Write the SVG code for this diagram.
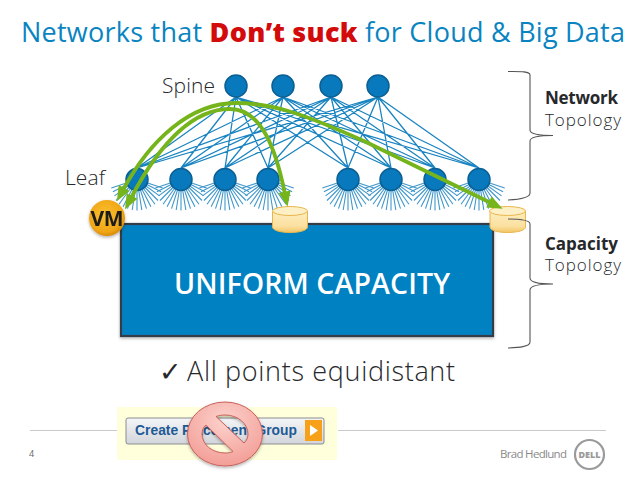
<svg xmlns="http://www.w3.org/2000/svg" xmlns:xlink="http://www.w3.org/1999/xlink" width="638" height="478" viewBox="0 0 638 478">
<style>
text{font-family:"Open Sans","Lato","Liberation Sans",sans-serif;fill:#26282b}
.net{fill:#0879bd;stroke:#0b5f92;stroke-width:1.5}
.link{stroke:#1a84c0;stroke-width:1.3;fill:none}
.fan{stroke:#3f97cb;stroke-width:1.1;fill:none}
.green{stroke:#76b41c;stroke-width:3.8;fill:none;marker-start:url(#gh);marker-end:url(#gh)}
.brace{stroke:#555;stroke-width:1.1;fill:none}
.lab{font-size:17px}
.tier{font-size:21px;font-weight:300}
.rule{stroke:#c9c9c9;stroke-width:1}
.cyl{fill:url(#cylG);stroke:#e9b64e;stroke-width:1}
.cyltop{fill:#fdf0c6;stroke:#e9b64e;stroke-width:1}
</style>
<defs>
<marker id="gh" markerUnits="strokeWidth" markerWidth="5" markerHeight="4" refX="0.6" refY="1.6" orient="auto-start-reverse" overflow="visible"><path d="M0,0L4,1.6L0,3.2Z" fill="#76b41c"/></marker>
<linearGradient id="cylG" x1="0" y1="0" x2="0" y2="1"><stop offset="0" stop-color="#fdeebf"/><stop offset=".7" stop-color="#fbe0a0"/><stop offset="1" stop-color="#f2c566"/></linearGradient>
<radialGradient id="vmG" cx=".45" cy=".4" r=".65"><stop offset="0" stop-color="#fbc02e"/><stop offset=".75" stop-color="#f0a516"/><stop offset="1" stop-color="#cf8206"/></radialGradient>
<linearGradient id="btnG" x1="0" y1="0" x2="0" y2="1"><stop offset="0" stop-color="#f4f5f7"/><stop offset="1" stop-color="#d2d5da"/></linearGradient>
<radialGradient id="noG" cx=".5" cy=".3" r=".75"><stop offset="0" stop-color="#fcd2cc"/><stop offset="1" stop-color="#f29a93"/></radialGradient>
<filter id="soft" x="-10%" y="-10%" width="120%" height="125%"><feDropShadow dx="0" dy="1.5" stdDeviation="1.5" flood-color="#000" flood-opacity=".3"/></filter>
<g id="fanShape" class="fan"><path d="M0,0V31M0,0L4.800,30.500M0,0L9.500,29.200M0,0L13.900,27.300M0,0L18,24.800M0,0L21,21M0,0L22.500,16.400M0,0L24.100,12.300M0,0L25.700,8.400M0,0L-4.800,30.500M0,0L-9.500,29.200M0,0L-13.900,27.300M0,0L-18,24.800M0,0L-21,21M0,0L-22.500,16.400M0,0L-24.100,12.300M0,0L-25.700,8.400"/></g>
</defs>
<rect width="638" height="478" fill="#fff"/>
<text id="title" x="21" y="42" font-size="27" textLength="604" style="fill:#0a84c1">Networks that <tspan font-weight="800" style="fill:#d30b0b">Don’t suck</tspan> for Cloud &amp; Big Data</text>

<g id="capacity" filter="url(#soft)"><rect x="121" y="224" width="372" height="112" fill="#0681c2" stroke="#323c46" stroke-width="2.200"/></g>
<text x="174" y="294" font-size="28.500" font-weight="600" textLength="276" style="fill:#fff">UNIFORM CAPACITY</text>

<g id="connectors">
<path class="link" d="M236,97L137,168M236,97L181,168M236,97L225,168M236,97L268,168M236,97L348,168M236,97L391,168M236,97L435,168M236,97L479,168
M283,97L137,168M283,97L181,168M283,97L225,168M283,97L268,168M283,97L348,168M283,97L391,168M283,97L435,168M283,97L479,168
M331,97L137,168M331,97L181,168M331,97L225,168M331,97L268,168M331,97L348,168M331,97L391,168M331,97L435,168M331,97L479,168
M378,97L137,168M378,97L181,168M378,97L225,168M378,97L268,168M378,97L348,168M378,97L391,168M378,97L435,168M378,97L479,168"/>
</g>
<use href="#fanShape" x="137" y="179.5"/><use href="#fanShape" x="181" y="179.5"/><use href="#fanShape" x="225" y="179.5"/><use href="#fanShape" x="268" y="179.5"/><use href="#fanShape" x="348" y="179.5"/><use href="#fanShape" x="391" y="179.5"/><use href="#fanShape" x="435" y="179.5"/><use href="#fanShape" x="479" y="179.5"/>

<g id="spine1"><circle class="net" cx="236" cy="86" r="11"/></g>
<g id="spine2"><circle class="net" cx="283" cy="86" r="11"/></g>
<g id="spine3"><circle class="net" cx="331" cy="86" r="11"/></g>
<g id="spine4"><circle class="net" cx="378" cy="86" r="11"/></g>
<g id="leaf1"><circle class="net" cx="137" cy="179.5" r="11"/></g>
<g id="leaf2"><circle class="net" cx="181" cy="179.5" r="11"/></g>
<g id="leaf3"><circle class="net" cx="225" cy="179.5" r="11"/></g>
<g id="leaf4"><circle class="net" cx="268" cy="179.5" r="11"/></g>
<g id="leaf5"><circle class="net" cx="348" cy="179.5" r="11"/></g>
<g id="leaf6"><circle class="net" cx="391" cy="179.5" r="11"/></g>
<g id="leaf7"><circle class="net" cx="435" cy="179.5" r="11"/></g>
<g id="leaf8"><circle class="net" cx="479" cy="179.5" r="11"/></g>

<g id="store1"><path class="cyl" d="M272.500,211V227C272.500,230.500 281,232.500 290,232.500S307.500,230.500 307.500,227V211Z"/><ellipse class="cyltop" cx="290" cy="211" rx="17.500" ry="4.500"/></g>
<g id="store2"><path class="cyl" d="M490,211V227C490,230.500 498,232.500 507.500,232.500S525.500,230.500 525.500,227V211Z"/><ellipse class="cyltop" cx="507.500" cy="211" rx="18" ry="4.500"/></g>

<g id="green-paths">
<path class="green" d="M123,190C150,140 190,103 236,103C270,103 300,112 366,142L491,203"/>
<path class="green" d="M131,198C152,158 185,109 230,109C262,109 276,150 285,194"/>
</g>

<g id="vm" filter="url(#soft)"><circle cx="107" cy="218" r="18" fill="url(#vmG)"/><text x="90.500" y="225.500" font-size="21" font-weight="700" textLength="33" style="fill:#1a1a1a">VM</text></g>

<text class="tier" x="162" y="92.500" textLength="53">Spine</text>
<text class="tier" x="65" y="185" textLength="40">Leaf</text>

<g id="braces">
<path class="brace" d="M508,71.500C518,71.500 530,71 530,75V130C530,134 538,135.500 553,135.500C538,135.500 530,137 530,141V193C530,198 518,199.500 508,200"/>
<path class="brace" d="M508,219C518,219 530,219.500 530,224V278C530,282 538,284 553,284C538,284 530,286 530,290V342C530,347 518,347.500 508,348"/>
</g>
<text class="lab" x="545" y="104" font-weight="700" textLength="73">Network</text>
<text class="lab" x="545" y="126" font-weight="300" textLength="76">Topology</text>
<text class="lab" x="545" y="250" font-weight="700" textLength="73">Capacity</text>
<text class="lab" x="545" y="271" font-weight="300" textLength="76">Topology</text>

<text x="159" y="381" font-size="27" style="font-family:'DejaVu Sans',sans-serif;fill:#26282b">✓</text>
<text x="187" y="381" font-size="27" font-weight="300" textLength="268">All points equidistant</text>

<line class="rule" x1="30" y1="430.500" x2="117" y2="430.500"/>
<line class="rule" x1="338" y1="430.500" x2="606" y2="430.500"/>

<g id="placement">
<rect x="117" y="407" width="220" height="53" fill="#ffffdc"/>
<rect x="126" y="418" width="198" height="26" rx="2" fill="url(#btnG)" stroke="#8a8d90" stroke-width="1"/>
<text x="135" y="435" font-size="13.800" font-weight="700" textLength="162" style="font-family:'Liberation Sans',sans-serif;fill:#1d5a96">Create Placement Group</text>
<rect x="305" y="420" width="17" height="21" fill="#f7a11a"/>
<path d="M310,425L318,430.500L310,436Z" fill="#fff"/>
</g>
<g id="no-sign" filter="url(#soft)">
<path fill="url(#noG)" fill-rule="evenodd" stroke="#c9605a" stroke-width="1" d="M187.500,434a37.500,32 0 1,0 75,0a37.500,32 0 1,0 -75,0ZM202,434a23,19 0 0,0 23,19c3,0 6,-.5 8,-1.500L206,425c-3,2.500 -4,6 -4,9ZM216,416.500L244,443c3,-2.500 4,-6 4,-9a23,19 0 0,0 -23,-19c-3,0 -6,.5 -9,1.500Z"/>
</g>

<text x="29" y="457" font-size="9" style="fill:#666">4</text>
<text x="500" y="458" font-size="11.500" textLength="67" style="fill:#8a8a8a">Brad Hedlund</text>
<g id="dell"><circle cx="589.500" cy="454.500" r="14.500" fill="#fff" stroke="#9a9a9a" stroke-width="2.200"/><text x="589.500" y="458" text-anchor="middle" font-size="9" font-weight="800" style="fill:#9a9a9a">DELL</text></g>
</svg>
